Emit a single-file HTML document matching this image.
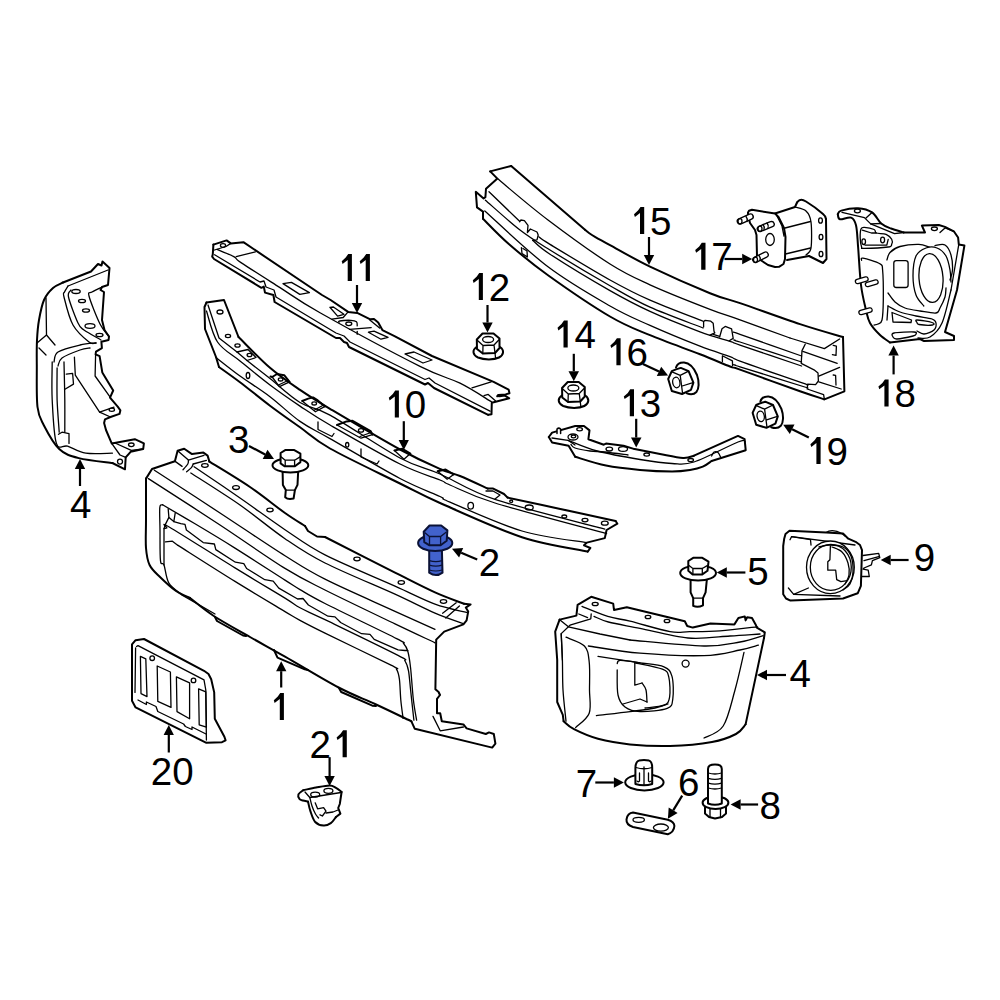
<!DOCTYPE html>
<html><head><meta charset="utf-8"><style>
html,body{margin:0;padding:0;background:#fff;width:1000px;height:1000px;overflow:hidden}
svg{display:block}
text{font-family:"Liberation Sans",sans-serif;font-size:38.5px;fill:#000}
.o{fill:none;stroke:#000;stroke-width:2;stroke-linejoin:round;stroke-linecap:round}
.i{fill:none;stroke:#000;stroke-width:1.3;stroke-linejoin:round;stroke-linecap:round}
.f{fill:#fff;stroke:#000;stroke-width:2;stroke-linejoin:round;stroke-linecap:round}
.fi{fill:#fff;stroke:#000;stroke-width:1.3;stroke-linejoin:round;stroke-linecap:round}
</style></head><body>
<svg width="1000" height="1000" viewBox="0 0 1000 1000">
<!-- 01.txt -->
<g>
<path class="o" d="M146.0,478.6 L152.0,469.0 L174.9,461.2 L177.6,450.8 L184.2,448.7 L192.0,454.1 L203.4,452.6 L207.6,455.6 L209.4,461.6"/>
<path class="o" d="M209.4,461.6 C216.2,465.8 237.4,478.4 250.0,487.0 C262.6,495.6 275.8,506.5 285.0,513.0 C294.2,519.5 301.7,523.8 305.0,526.0"/>
<path class="o" d="M305.0,526.0 L308.0,531.0 L317.0,536.5 L325.0,537.0"/>
<path class="o" d="M325.0,537.0 C336.7,542.9 376.7,563.4 395.0,572.6 C413.3,581.8 423.5,587.2 435.0,592.4 C446.5,597.6 459.2,601.9 464.0,603.8"/>
<path class="o" d="M464.0,603.8 L470.6,604.4 L465.8,607.6 L468.2,611.6 L466.6,620.4 L463.4,624.4 L444.2,631.6 L436.2,639.6 L435.4,689.2 L438.6,692.0 L440.0,695.0 L437.0,698.8 L437.0,713.2 L440.2,713.2 L441.8,721.2 L463.4,724.4 L466.6,728.4 L485.8,734.0 L489.0,732.4 L493.8,734.0 L495.4,743.6 L492.2,747.6 L414.8,728.8 L411.4,721.3"/>
<path class="o" d="M146.0,478.6 C146.0,485.5 146.0,508.4 146.0,520.0 C146.0,531.6 145.4,540.5 146.0,548.0 C146.6,555.5 147.3,560.2 149.6,565.0 C151.9,569.8 155.6,572.7 160.0,577.0 C164.4,581.3 171.0,587.5 176.0,591.0 C181.0,594.5 187.7,596.8 190.0,598.0"/>
<path class="o" d="M190.0,598.0 C194.0,601.0 203.8,609.5 213.8,616.0 C223.8,622.5 238.1,630.2 250.0,637.0 C261.9,643.8 270.2,648.2 285.0,656.6 C299.8,665.0 323.6,679.6 338.6,687.5 C353.6,695.4 362.9,698.4 375.0,704.0 C387.1,709.6 405.3,718.4 411.4,721.3"/>
<path class="o" d="M215.0,617.0 L217.0,621.0 L243.0,635.5 L246.0,636.0"/>
<path class="o" d="M274.0,650.0 L277.5,657.6 L304.8,669.3 L308.0,670.0"/>
<path class="o" d="M339.0,688.0 L341.2,692.0 L372.4,705.7 L376.0,706.0"/>
<path class="i" d="M182.2,595.1 L215.0,614.0"/>
<path class="i" d="M178.5,451.4 L188.4,460.1 L204.0,455.3"/>
<path class="i" d="M188.4,460.4 C188.3,461.0 188.7,462.4 187.8,464.0 C186.9,465.6 183.8,468.8 183.0,469.7"/>
<path class="i" d="M175.5,461.6 L182.1,466.4"/>
<path class="i" d="M206.4,460.4 L193.2,464.0"/>
<path class="i" d="M193.2,464.0 C192.9,464.6 192.5,466.3 191.4,467.6 C190.3,468.9 187.4,471.1 186.6,471.8"/>
<path class="i" d="M194.1,466.7 C201.8,471.9 224.8,487.5 240.0,498.0 C255.2,508.5 270.8,520.2 285.0,529.7 C299.2,539.2 306.7,545.5 325.0,554.9 C343.3,564.3 376.7,577.9 395.0,586.1 C413.3,594.3 423.1,599.7 435.0,604.1 C446.9,608.5 461.3,611.0 466.6,612.4"/>
<path class="i" d="M190.8,473.0 C199.0,478.3 224.3,494.1 240.0,505.0 C255.7,516.0 270.8,529.0 285.0,538.7 C299.2,548.4 306.7,553.8 325.0,563.0 C343.3,572.2 376.7,585.9 395.0,594.2 C413.3,602.6 423.6,608.2 435.0,613.1 C446.4,618.0 458.7,621.9 463.4,623.6"/>
<path class="i" d="M154.4,470.2 C165.3,477.3 198.2,498.7 220.0,513.0 C241.8,527.3 267.5,544.8 285.0,555.8 C302.5,566.8 306.7,570.0 325.0,579.2 C343.3,588.5 376.7,602.9 395.0,611.3 C413.3,619.6 428.3,626.3 435.0,629.3"/>
<path class="i" d="M148.4,478.6 C160.3,486.3 197.2,510.0 220.0,525.0 C242.8,540.0 267.5,557.6 285.0,568.4 C302.5,579.2 306.7,580.8 325.0,590.0 C343.3,599.2 376.7,615.1 395.0,623.9 C413.3,632.7 428.3,639.6 435.0,642.8"/>
<path class="i" d="M442.6,613.2 L456.2,602.8"/>
<path class="i" d="M445.8,618.0 L459.4,606.0"/>
<ellipse class="i" cx="204.9" cy="465.5" rx="3.3" ry="1.8"/>
<ellipse class="i" cx="236" cy="487.6" rx="3.4" ry="1.9"/>
<ellipse class="i" cx="270" cy="510" rx="3.2" ry="1.8"/>
<ellipse class="i" cx="357" cy="559" rx="3.2" ry="1.8"/>
<ellipse class="i" cx="401.3" cy="582.5" rx="3.2" ry="1.8"/>
<ellipse class="i" cx="443.5" cy="601.5" rx="3.2" ry="1.8"/>
<path class="i" d="M162.6,504.8 C168.0,508.0 182.9,516.6 195.0,523.8 C207.1,531.0 220.0,538.7 235.0,548.1 C250.0,557.5 274.2,573.2 285.0,580.1 C295.8,587.0 293.3,585.7 300.0,589.6 C306.7,593.5 308.9,595.3 325.0,603.5 C341.1,611.7 383.5,631.9 396.6,638.6 C409.7,645.3 401.7,641.4 403.6,643.5 C405.5,645.6 406.6,647.1 407.8,651.2 C409.0,655.3 409.7,659.9 410.6,668.0 C411.5,676.1 412.4,691.3 413.4,700.0 C414.4,708.7 416.1,716.8 416.6,720.2"/>
<path class="i" d="M162.6,504.8 C162.1,505.3 160.2,503.4 159.8,507.6 C159.4,511.8 159.9,521.1 160.0,530.0 C160.1,538.9 159.8,555.0 160.5,560.8 C161.2,566.6 162.6,561.3 164.0,565.0 C165.4,568.7 165.9,578.2 168.9,583.2 C171.9,588.2 180.0,593.1 182.2,595.1"/>
<path class="i" d="M168.2,509.0 L168.9,517.4 L165.4,524.4 L164.0,528.6 L164.0,565.0"/>
<path class="i" d="M175.2,513.2 L173.8,521.6 L180.8,523.7 L185.0,524.4 L186.4,530.0 L203.2,542.6 L214.4,544.0 L215.8,549.6 L235.4,562.2 L243.8,563.6 L246.6,568.5 L264.8,579.7 L273.2,581.1 L278.8,588.1 L297.6,599.0 L303.0,598.5 L308.4,605.0 L328.0,616.2 L335.0,616.9 L340.6,622.5 L361.6,633.7 L370.0,634.4 L374.2,639.3 L398.0,649.8 L405.0,650.5 L407.8,650.5"/>
<path class="i" d="M173.8,521.6 L168.9,517.4"/>
<path class="i" d="M164.0,528.6 C164.5,528.5 165.9,528.1 166.8,527.9 C167.7,527.7 158.2,520.5 169.6,527.2 C181.0,533.9 215.8,556.1 235.0,567.9 C254.2,579.7 274.2,591.5 285.0,598.1 C295.8,604.8 293.3,604.2 300.0,607.8 C306.7,611.4 308.7,611.8 325.0,619.7 C341.3,627.6 384.7,648.5 398.0,655.4 C411.3,662.3 403.2,658.4 405.0,661.0 C406.8,663.6 407.6,666.0 408.5,670.8 C409.4,675.6 409.7,681.8 410.6,690.0 C411.5,698.2 413.3,715.2 413.9,720.2"/>
<path class="i" d="M165.4,541.9 L172.4,541.2 L178.0,545.4"/>
<path class="i" d="M178.0,545.4 C187.5,551.4 217.2,570.4 235.0,581.4 C252.8,592.4 274.2,605.1 285.0,611.6 C295.8,618.1 293.3,616.8 300.0,620.4 C306.7,624.0 309.8,625.7 325.0,633.2 C340.2,640.7 379.1,659.2 391.0,665.2 C402.9,671.2 395.2,667.1 396.6,669.4 C398.0,671.7 398.7,674.1 399.4,679.2 C400.1,684.3 400.2,693.5 400.8,700.0 C401.4,706.5 402.7,715.3 403.1,718.4"/>
<path class="i" d="M433.0,716.4 L440.2,730.8 L463.4,727.0"/>
<path class="i" d="M440.0,695.0 L438.8,692.8"/>
</g>
<!-- 04L.txt -->
<g>
<path class="o" d="M63.0,282.5 C61.3,283.4 56.2,285.1 53.0,288.0 C49.8,290.9 46.3,294.7 44.0,300.0 C41.7,305.3 40.2,313.3 39.0,320.0 C37.8,326.7 37.4,332.5 37.0,340.0 C36.6,347.5 36.7,353.8 36.8,365.0 C36.9,376.2 36.3,397.0 37.5,407.0 C38.7,417.0 40.2,418.2 43.8,425.2 C47.4,432.2 53.4,443.5 59.2,449.0 C65.0,454.5 69.9,455.8 78.8,458.1 C87.7,460.4 106.8,462.2 112.4,463.0"/>
<path class="o" d="M112.4,463.0 L125.0,469.3 L125.7,457.4 L130.6,451.8 L143.2,449.0 L143.9,443.4 L134.8,439.2 L111.7,443.4 L106.0,430.0 L104.1,422.9 L105.0,419.3 L110.5,417.0 L119.5,413.9 L120.4,410.3 L117.7,406.7 L110.0,397.7 L113.2,390.5 L102.3,372.4 L99.6,356.2 L95.6,354.4 L96.0,351.7 L101.9,348.1 L101.4,341.8 L108.6,340.0 L109.0,336.5 L104.5,330.0 L102.0,320.0 L104.0,292.0 L100.5,290.0 L102.0,287.0 L108.0,285.0 L109.5,268.0 L102.5,261.5 L101.5,265.5 L98.0,264.0 L91.0,271.5 L63.0,282.5"/>
<path class="i" d="M68.0,286.0 L108.0,270.0"/>
<path class="i" d="M68.0,286.0 C67.4,287.0 65.2,290.2 64.5,292.0 C63.8,293.8 62.6,291.5 64.0,297.0 C65.4,302.5 68.8,317.5 73.0,325.0 C77.2,332.5 85.2,339.0 89.0,342.0 C92.8,345.0 94.8,342.8 96.0,343.0"/>
<path class="i" d="M71.0,290.0 C70.6,291.2 67.3,291.5 68.5,297.0 C69.7,302.5 75.4,317.5 78.0,323.0 C80.6,328.5 80.2,327.2 84.0,330.0 C87.8,332.8 98.2,338.3 101.0,340.0"/>
<path class="i" d="M102.0,287.0 C100.3,287.8 94.2,290.5 92.0,292.0 C89.8,293.5 87.7,290.7 89.0,296.0 C90.3,301.3 96.7,317.2 100.0,324.0 C103.3,330.8 107.5,334.4 109.0,336.5"/>
<ellipse class="i" cx="76" cy="291.5" rx="4.2" ry="2"/>
<ellipse class="i" cx="82" cy="301" rx="3.5" ry="1.7"/>
<ellipse class="i" cx="86" cy="310.5" rx="3.5" ry="1.7"/>
<ellipse class="i" cx="90" cy="326" rx="5" ry="2.3"/>
<ellipse class="i" cx="99.5" cy="335" rx="3.5" ry="1.7"/>
<path class="i" d="M46.0,298.0 L46.5,335.0 L55.0,345.0"/>
<path class="i" d="M37.0,343.0 L46.5,335.0"/>
<path class="i" d="M39.0,348.0 L46.0,355.0"/>
<path class="i" d="M54.0,362.0 C54.7,360.3 53.7,354.8 58.0,352.0 C62.3,349.2 73.7,346.5 80.0,345.0 C86.3,343.5 93.3,343.3 96.0,343.0"/>
<path class="i" d="M58.0,366.0 C58.7,364.7 58.3,360.7 62.0,358.0 C65.7,355.3 75.3,351.7 80.0,350.0 C84.7,348.3 88.3,348.3 90.0,348.0"/>
<path class="i" d="M52.2,362.0 C52.2,368.3 51.5,386.4 52.2,400.0 C52.9,413.6 53.8,435.7 56.4,443.4 C59.0,451.1 62.7,444.6 67.6,446.2 C72.5,447.8 78.3,452.0 85.8,453.2 C93.3,454.4 108.0,453.2 112.4,453.2"/>
<path class="i" d="M57.1,368.0 C57.1,373.3 56.8,389.3 57.1,400.0 C57.5,410.7 58.9,426.8 59.2,432.2"/>
<path class="i" d="M58.5,434.3 L62.0,432.2 L69.0,433.6 L69.0,443.4"/>
<path class="i" d="M66.3,374.2 L72.6,373.3 L73.5,384.1 L64.5,389.5"/>
<path class="i" d="M64.0,362.0 C64.1,368.3 64.7,388.3 64.8,400.0 C64.9,411.7 64.8,426.7 64.8,432.0"/>
<path class="i" d="M95.6,354.4 L95.1,376.0 L110.5,397.7"/>
<path class="i" d="M74.4,357.1 L75.3,375.1 L99.6,412.1 L114.0,407.1"/>
<path class="i" d="M99.6,412.1 L110.5,417.0"/>
<ellipse class="i" cx="111.8" cy="409.8" rx="2.7" ry="1.6"/>
<path class="i" d="M111.7,443.4 L120.0,455.0 L125.7,457.4"/>
<path class="i" d="M115.0,443.0 L131.3,450.4 L143.2,449.0"/>
<ellipse class="i" cx="131.3" cy="444.8" rx="2.8" ry="1.8"/>
<ellipse class="i" cx="120" cy="461.6" rx="2.5" ry="2.5"/>
</g>
<!-- 04R.txt -->
<g>
<path class="o" d="M559.6,619.6 L576.4,615.6 L577.6,604.8 L591.2,596.8 L613.2,603.6 L614.0,610.0 L626.8,607.2 L684.8,621.2 L687.2,626.0 L692.8,627.6 L710.4,623.6 L734.4,624.4 L738.4,618.0 L744.8,616.4 L745.6,620.4 L747.2,617.2 L752.0,618.0 L756.0,625.2 L756.8,627.6 L764.8,632.4 L764.0,638.0"/>
<path class="o" d="M764.0,638.0 L745.6,724.4"/>
<path class="o" d="M745.6,724.4 C744.0,726.0 741.6,731.1 736.0,734.0 C730.4,736.9 723.0,740.0 712.0,742.0 C701.0,744.0 683.7,745.6 670.0,746.0 C656.3,746.4 642.0,745.6 630.0,744.4 C618.0,743.2 607.3,741.3 598.0,738.8 C588.7,736.3 579.7,732.1 574.0,729.2 C568.3,726.3 565.3,722.5 563.6,721.2"/>
<path class="o" d="M563.6,721.2 L562.8,714.8 L557.2,702.0 L557.2,660.0 L555.2,631.6 L559.6,619.6"/>
<path class="i" d="M582.0,606.4 C586.3,608.1 599.8,613.9 607.8,616.4 C615.8,618.9 619.6,618.7 630.0,621.2 C640.4,623.7 660.1,629.9 670.0,631.6 C679.9,633.3 681.3,631.7 689.6,631.6 C697.9,631.5 708.7,631.6 720.0,630.8 C731.3,630.0 751.3,627.5 757.6,626.8"/>
<path class="i" d="M594.0,616.4 C596.4,617.3 600.7,620.0 608.4,622.0 C616.1,624.0 626.7,625.7 640.0,628.4 C653.3,631.1 673.0,636.7 688.0,638.0 C703.0,639.3 718.0,636.7 730.0,636.0 C742.0,635.3 755.0,634.3 760.0,634.0"/>
<path class="i" d="M578.8,614.0 L587.6,617.6"/>
<path class="i" d="M591.2,614.0 L590.8,618.8 L570.0,625.2 L561.2,633.6 L562.4,660.0"/>
<path class="i" d="M560.0,620.0 L568.4,626.8 L600.0,634.0 L630.0,640.0"/>
<path class="i" d="M630.0,640.0 C642.3,641.0 685.7,645.7 704.0,646.0 C722.3,646.3 730.1,643.7 740.0,642.0 C749.9,640.3 759.3,636.7 763.2,635.6"/>
<path class="i" d="M588.4,646.0 C597.0,647.2 620.7,651.6 640.0,653.2 C659.3,654.8 687.3,656.1 704.0,655.6 C720.7,655.1 730.9,651.7 740.0,650.0 C749.1,648.3 755.3,646.0 758.4,645.2"/>
<path class="i" d="M598.0,656.4 L640.0,662.8"/>
<path class="i" d="M561.2,633.6 C561.4,638.0 562.1,650.6 562.4,660.0 C562.7,669.4 562.4,679.8 563.0,690.0 C563.6,700.2 565.5,716.0 566.0,721.2"/>
<path class="i" d="M566.0,637.2 C569.1,638.7 580.5,641.9 584.4,646.0 C588.3,650.1 588.4,654.7 589.2,662.0 C590.1,669.3 589.5,681.5 589.5,690.0 C589.5,698.5 591.5,706.9 589.2,713.2 C586.9,719.5 577.9,725.2 575.6,727.6"/>
<path class="i" d="M744.0,652.4 C742.5,658.7 738.5,677.7 735.0,690.0 C731.5,702.3 728.4,718.0 723.2,726.0 C718.0,734.0 707.2,736.0 704.0,738.0"/>
<circle class="i" cx="685.6" cy="663.6" r="3.5"/>
<path class="i" d="M617.2,663.6 C617.7,663.1 616.6,660.5 620.4,660.4 C624.2,660.3 632.7,661.7 640.0,662.8 C647.3,663.9 658.7,664.5 664.0,666.8 C669.3,669.1 670.5,671.1 672.0,676.4 C673.5,681.7 673.6,693.5 672.8,698.8 C672.0,704.1 672.7,706.3 667.2,708.4 C661.7,710.5 647.0,711.8 640.0,711.6 C633.0,711.4 628.7,709.8 625.0,707.0 C621.3,704.2 619.3,701.2 618.0,695.0 C616.7,688.8 617.3,674.2 617.2,670.0"/>
<path class="i" d="M634.8,662.8 C639.4,663.9 656.7,666.8 662.4,669.2 C668.1,671.6 667.6,672.5 668.8,677.2 C670.0,681.9 670.4,692.5 669.6,697.2 C668.8,701.9 668.1,703.4 664.0,705.2 C659.9,707.0 648.2,707.5 645.0,708.0"/>
<path class="i" d="M634.8,662.8 L634.8,685.2 L642.0,683.0"/>
<path class="i" d="M642.0,683.0 C642.7,684.2 645.2,686.8 646.0,690.0 C646.8,693.2 646.8,700.0 647.0,702.0"/>
<path class="i" d="M623.0,704.0 L640.0,699.0 L647.0,702.0"/>
<path class="i" d="M596.4,715.6 C602.0,714.9 620.2,712.9 630.0,711.6 C639.8,710.3 648.7,709.3 655.0,708.0 C661.3,706.7 665.8,704.7 668.0,704.0"/>
<ellipse class="i" cx="595.2" cy="604" rx="3" ry="1.7"/>
<ellipse class="i" cx="648" cy="617" rx="2.8" ry="1.7"/>
<ellipse class="i" cx="667" cy="621" rx="2.8" ry="1.7"/>
</g>
<!-- 05.txt -->
<g>
<path class="f" d="M690.6,579 L690.6,592.3 L693.2,598.1 L693.2,605.9 Q697.8,608 703,605.3 L703,598.1 L705.6,592.3 L706.9,579 Z"/>
<path class="i" d="M693.2,598.1 L703,598.1"/>
<ellipse class="f" cx="698.1" cy="573" rx="17.9" ry="7.6"/>
<path class="f" d="M688.3,561 L693.2,557.8 L702.3,557.8 L708.5,561.7 L707.5,570.8 L702.3,574.4 L692.6,574.4 L688.3,570.8 Z"/>
<path class="i" d="M689,565.6 L692.9,568.5 L702.3,568.5 L707.2,565.6 M692.9,568.5 L692.9,574.4 M702.3,568.5 L702.3,574.4"/>
</g>
<!-- 09.txt -->
<g>
<path class="o" d="M784.2,538.7 L785.5,534.0 L789.5,530.8 L826.2,532.4 L843.0,533.4 L848.3,538.7 L855.6,541.8 L860.0,545.0 L862.0,550.2 L860.9,585.9 L857.7,593.3 L843.0,598.5 L790.5,600.6 L786.0,598.5 L783.2,594.3 L783.2,546.0 Z"/>
<path class="i" d="M826.2,532.4 Q829,530.3 834,530.8 Q840,531.5 845,536"/>
<path class="i" d="M790.0,539.7 L791.6,536.6 L810.5,539.7 L811.0,545.0"/>
<path class="i" d="M791.6,536.6 L855.0,545.0"/>
<path class="i" d="M788.4,588.0 L793.7,594.3 L808.4,588.0"/>
<path class="i" d="M793.7,594.3 L840.0,596.0"/>
<ellipse class="fi" cx="830.4" cy="567.3" rx="23.9" ry="26.3"/>
<ellipse class="i" cx="830.8" cy="567.3" rx="20.5" ry="23"/>
<path class="i" d="M819.0,547.0 C820.8,546.7 826.0,545.0 830.0,545.0 C834.0,545.0 839.5,545.2 843.0,547.0 C846.5,548.8 849.3,551.8 851.0,556.0 C852.7,560.2 853.2,567.3 853.0,572.0 C852.8,576.7 851.7,581.0 850.0,584.0 C848.3,587.0 844.2,589.0 843.0,590.0"/>
<path class="i" d="M832.0,547.0 C833.7,547.8 839.3,549.3 842.0,552.0 C844.7,554.7 846.8,559.2 848.0,563.0 C849.2,566.8 849.5,571.5 849.0,575.0 C848.5,578.5 845.7,582.5 845.0,584.0"/>
<path class="i" d="M830.4,546.0 L829.9,559.7 L827.8,561.8 L827.8,570.2 L835.7,570.2 L836.7,579.6 L840.9,581.7 L847.2,580.7"/>
<path class="i" d="M863.0,555.5 L878.7,553.4 L879.8,557.6 L872.4,560.7 L871.4,564.9 L864.0,568.0 L863.0,569.1 L868.2,570.2 L869.3,576.5 L862.0,576.5"/>
<path class="i" d="M864.0,560.7 L878.7,556.5"/>
</g>
<!-- 10.txt -->
<g>
<path class="o" d="M206.5,302.5 L224.0,300.0 L238.5,337.0"/>
<path class="o" d="M238.5,337.0 C243.8,342.1 259.8,359.0 270.0,367.8 C280.2,376.6 290.0,383.1 300.0,389.9 C310.0,396.7 313.3,398.9 330.0,408.8 C346.7,418.7 381.7,439.5 400.0,449.5 C418.3,459.5 430.0,464.6 440.0,469.0 C450.0,473.4 452.0,472.7 460.0,476.0 C468.0,479.3 483.2,486.5 487.8,488.6"/>
<path class="o" d="M487.8,488.6 L493.2,488.6 L504.0,494.0 L507.6,497.6"/>
<path class="o" d="M507.6,497.6 C516.0,499.4 540.0,504.5 558.0,508.4 C576.0,512.3 606.0,518.9 615.6,521.0"/>
<path class="o" d="M615.6,521.0 L617.4,523.7 L606.6,530.0 L604.8,538.1 L586.8,542.6 L584.0,545.3 L590.4,548.0 L587.7,551.6"/>
<path class="o" d="M206.5,302.5 L204.5,307.0 L205.0,329.0 L216.0,357.0 L219.0,367.0"/>
<path class="o" d="M219.0,367.0 C222.5,369.5 231.5,375.8 240.0,382.2 C248.5,388.6 260.0,398.2 270.0,405.7 C280.0,413.2 290.0,420.2 300.0,427.3 C310.0,434.4 313.3,439.1 330.0,448.5 C346.7,457.9 381.7,474.4 400.0,483.5 C418.3,492.6 419.7,494.1 440.0,503.0 C460.3,511.9 497.4,529.1 522.0,537.2 C546.6,545.3 576.8,549.2 587.7,551.6"/>
<path class="i" d="M208.0,305.0 L219.0,338.0 L237.0,352.0"/>
<path class="i" d="M247.0,360.5 C250.8,363.5 261.2,371.6 270.0,378.6 C278.8,385.6 290.0,396.4 300.0,402.5 C310.0,408.6 313.3,405.9 330.0,415.1 C346.7,424.4 381.7,448.2 400.0,458.0 C418.3,467.8 424.2,467.1 440.0,474.0 C455.8,480.9 467.5,490.2 495.0,499.4 C522.5,508.6 586.5,524.1 604.8,529.1"/>
<path class="i" d="M206.5,311.0 C208.3,316.2 211.9,333.7 217.5,342.0 C223.1,350.3 231.2,353.8 240.0,361.0 C248.8,368.2 260.0,377.5 270.0,385.0 C280.0,392.5 290.0,399.4 300.0,406.1 C310.0,412.8 313.3,415.4 330.0,425.0 C346.7,434.6 381.7,454.8 400.0,464.0 C418.3,473.2 431.7,476.5 440.0,480.0 C448.3,483.5 440.8,481.2 450.0,485.0 C459.2,488.8 468.9,494.9 495.0,503.0 C521.1,511.1 588.0,528.5 606.6,533.6"/>
<path class="i" d="M216.0,357.5 C220.0,360.6 231.0,369.5 240.0,376.0 C249.0,382.5 260.0,389.1 270.0,396.7 C280.0,404.3 290.0,414.4 300.0,421.4 C310.0,428.4 313.3,429.1 330.0,438.6 C346.7,448.1 381.7,468.9 400.0,478.5 C418.3,488.1 431.7,492.6 440.0,496.5 C448.3,500.4 436.3,496.4 450.0,502.1 C463.7,507.9 499.2,524.2 522.0,531.0 C544.8,537.8 576.0,540.7 586.8,542.6"/>
<path class="i" d="M237.0,352.0 L248.0,349.5 L256.0,357.5 L247.0,360.5 L237.0,352.0"/>
<path class="o" d="M270.5,376.5 L272.2,377.0 L277.0,374.0 L284.2,375.2 L289.6,381.8"/>
<path class="i" d="M289.6,381.8 L279.4,386.6 L272.2,377.0"/>
<path class="i" d="M278.5,385.0 L288.0,380.5"/>
<ellipse class="i" cx="280.6" cy="379.4" rx="2.3" ry="1.6"/>
<path class="o" d="M302.2,401.0 L308.2,398.6 L313.0,397.4 L317.8,400.4 L325.0,406.4"/>
<path class="i" d="M325.0,406.4 L315.4,411.8 L302.2,401.0"/>
<path class="i" d="M314.5,410.0 L323.5,405.0"/>
<ellipse class="i" cx="314.2" cy="403.4" rx="2.3" ry="1.6"/>
<path class="o" d="M337.0,425.0 L346.6,421.4 L352.6,420.8 L370.6,431.0 L372.4,434.6"/>
<path class="i" d="M372.4,434.6 L361.0,438.2 L337.0,425.0"/>
<path class="i" d="M360.0,436.5 L371.0,432.5"/>
<ellipse class="i" cx="361" cy="430.4" rx="2.6" ry="1.8"/>
<path class="o" d="M394.4,450.4 L402.4,448.8 L410.4,453.6"/>
<path class="i" d="M410.4,453.6 L404.0,459.2 L394.4,450.4"/>
<path class="o" d="M437.6,471.2 L445.6,469.6 L453.6,474.4"/>
<path class="i" d="M453.6,474.4 L447.2,479.2 L437.6,471.2"/>
<path class="i" d="M486.0,491.0 L493.0,491.0 L500.0,495.0 L495.0,499.0"/>
<ellipse class="i" cx="220" cy="312" rx="3" ry="2"/>
<ellipse class="i" cx="228" cy="336" rx="2.6" ry="1.6"/>
<ellipse class="i" cx="237.5" cy="345.5" rx="2.6" ry="1.7"/>
<ellipse class="i" cx="249.5" cy="355" rx="2.4" ry="1.7"/>
<ellipse class="i" cx="248" cy="375.5" rx="1.8" ry="3"/>
<ellipse class="i" cx="347.2" cy="444.8" rx="1.6" ry="2.3"/>
<ellipse class="i" cx="470.7" cy="505.7" rx="2.8" ry="3.4"/>
<ellipse class="i" cx="511.2" cy="501.2" rx="1.5" ry="1.2"/>
<ellipse class="i" cx="529.2" cy="507.5" rx="4" ry="2.5"/>
<ellipse class="i" cx="564.3" cy="516.5" rx="2.4" ry="1.5"/>
<ellipse class="i" cx="585" cy="520.1" rx="3" ry="1.8"/>
<ellipse class="i" cx="604.8" cy="523.2" rx="3.4" ry="2"/>
<path class="i" d="M318.0,422.0 L318.0,429.5 L332.0,436.5 L334.0,433.5"/>
<path class="i" d="M361.0,449.0 L361.0,457.0 L377.0,464.0 L379.0,461.0"/>
</g>
<!-- 11.txt -->
<g>
<path class="o" d="M213.4,244.6 L226.6,240.4 L230.8,243.4 L243.4,242.2 L322.0,295.0 L330.6,300.0 L348.1,311.9 L357.2,312.9 L369.8,319.2 L374.0,318.9 L378.2,322.4 L382.4,330.1 L395.0,336.4 L432.0,356.0 L493.6,381.8 L508.6,389.6 L509.5,393.2 L505.6,394.4 L498.4,395.0 L497.2,396.2 L505.0,395.6 L509.2,398.3 L491.8,402.8 L491.5,414.2 L488.2,414.8"/>
<path class="o" d="M213.4,244.6 L212.8,254.2 L212.2,256.6 L214.0,259.0 L261.4,287.8 L263.8,286.6 L265.0,292.6 L273.4,295.0 L274.6,302.0 L336.0,338.0 L340.0,338.0 L344.0,342.0 L347.0,343.0 L349.0,347.0 L425.0,384.5 L428.0,383.0 L434.0,388.0 L488.2,414.8"/>
<path class="i" d="M214.6,254.8 L260.0,282.0 L264.0,281.0 L266.0,287.0 L274.0,290.0 L276.0,297.0 L336.0,333.0 L344.0,336.0 L350.0,342.0 L425.0,379.5 L429.0,378.0 L435.0,383.0 L490.0,411.2"/>
<path class="i" d="M217.0,249.4 C219.8,250.6 229.8,254.4 233.8,256.6 C237.8,258.8 233.3,257.4 241.0,262.6 C248.7,267.8 266.8,279.2 280.0,287.6 C293.2,296.0 296.7,299.7 320.0,312.8 C343.3,325.9 396.7,354.7 420.0,366.4 C443.3,378.1 448.0,377.3 460.0,383.2 C472.0,389.1 486.5,398.9 491.8,402.0"/>
<ellipse class="i" cx="223" cy="245.5" rx="2.6" ry="1.8"/>
<path class="i" d="M236.2,256.6 L255.4,251.8"/>
<path class="i" d="M214.5,250.0 L226.0,246.5 L230.8,243.4"/>
<path class="i" d="M283.0,283.6 L291.4,282.4 L309.4,292.6 L299.8,294.4 Z"/>
<path class="i" d="M329.9,307.3 L333.4,307.0 L343.9,314.3 L337.6,316.1 Z"/>
<path class="i" d="M368.4,332.2 L374.0,331.1 L388.0,337.4 L381.0,339.2 Z"/>
<path class="i" d="M405.0,354.0 L414.0,352.0 L432.0,360.0 L423.0,363.0 Z"/>
<path class="i" d="M472.0,387.8 L491.2,381.8"/>
<path class="i" d="M484.0,395.6 L488.2,394.4 L495.4,400.7"/>
<ellipse class="i" cx="499.9" cy="395.6" rx="2.3" ry="1"/>
<path class="i" d="M348.1,311.9 L343.2,317.5 L332.0,319.2"/>
<path class="i" d="M369.8,320.0 L379.6,328.0"/>
<ellipse class="i" cx="348.8" cy="323.8" rx="3" ry="1.8"/>
<path class="i" d="M339.0,322.4 C339.1,322.2 337.7,321.4 339.7,321.0 C341.7,320.6 348.1,320.2 350.9,320.3 C353.7,320.4 355.4,320.8 356.5,321.7 C357.6,322.6 357.1,325.2 357.2,325.9"/>
<path class="i" d="M349.5,329.4 L371.2,327.6"/>
<path class="i" d="M357.2,331.5 L357.2,334.3"/>
</g>
<!-- 13.txt -->
<g>
<path class="o" d="M548.8,437.0 L552.1,432.6 L575.2,426.0 L584.0,426.0 L589.5,430.4 L588.4,439.2 L603.8,444.7 L606.0,443.6 L623.6,445.8 L634.6,449.1"/>
<path class="o" d="M634.6,449.1 C638.8,449.9 651.9,452.5 660.0,454.0 C668.1,455.5 677.3,457.6 683.0,457.9 C688.7,458.2 692.2,456.1 694.0,455.7"/>
<path class="o" d="M694.0,455.7 L738.0,435.9 L744.6,439.2 L745.7,450.2 L711.6,461.0"/>
<path class="o" d="M711.6,461.0 C710.1,461.9 706.4,465.2 702.8,466.7 C699.2,468.2 695.1,469.2 690.0,470.0 C684.9,470.8 680.3,471.5 672.0,471.5 C663.7,471.5 651.0,471.0 640.0,470.0 C629.0,469.0 616.8,467.8 606.0,465.6 C595.2,463.4 580.3,458.3 575.2,456.8"/>
<path class="o" d="M575.2,456.8 L568.6,445.8 L552.1,442.5 L548.8,437.0"/>
<path class="i" d="M552.0,438.0 L568.0,440.3 L575.0,445.0"/>
<path class="i" d="M568.0,440.3 C572.9,442.1 585.2,447.8 597.2,451.0 C609.2,454.2 627.5,457.4 640.0,459.5 C652.5,461.6 663.0,463.1 672.0,463.5 C681.0,463.9 683.0,465.6 694.0,462.0 C705.0,458.4 729.5,445.4 738.0,442.0 C746.5,438.6 743.8,441.6 745.0,441.5"/>
<path class="i" d="M571.0,444.5 C571.7,445.1 571.8,446.9 575.0,448.0 C578.2,449.1 585.0,450.3 590.0,451.0 C595.0,451.7 598.7,451.3 605.0,452.0 C611.3,452.7 624.2,454.5 628.0,455.0"/>
<path class="i" d="M711.6,456.0 C712.0,455.3 712.9,452.6 714.0,452.0 C715.1,451.4 716.8,451.5 718.0,452.5 C719.2,453.5 720.5,457.1 721.0,458.0"/>
<ellipse class="i" cx="573" cy="437" rx="5" ry="3"/>
<ellipse class="i" cx="573.5" cy="436.5" rx="2.2" ry="1.3"/>
<path class="f" d="M557,433.5 L557,429 Q558.8,427.2 560.6,429 L560.6,433.5" style="stroke-width:1.5"/>
<ellipse class="i" cx="579.6" cy="429.3" rx="2.8" ry="1.6"/>
<ellipse class="i" cx="609.3" cy="449.1" rx="3.3" ry="1.9"/>
<ellipse class="i" cx="623" cy="449" rx="4.5" ry="2.4"/>
<ellipse class="i" cx="646.7" cy="454.6" rx="2.8" ry="1.6"/>
<ellipse class="i" cx="690.7" cy="460.1" rx="2.8" ry="1.6"/>
</g>
<!-- 15.txt -->
<g>
<path class="o" d="M490.2,171.4 L511.2,166.0"/>
<path class="o" d="M511.2,166.0 L585.0,229.8"/>
<path class="o" d="M585.0,229.8 C585.7,230.3 587.3,231.8 589.0,233.0 C590.7,234.2 591.5,234.8 595.0,236.8 C598.5,238.8 600.8,240.1 610.0,245.1 C619.2,250.1 633.3,258.6 650.0,266.6 C666.7,274.6 695.0,287.1 710.0,293.2 C725.0,299.3 725.0,298.0 740.0,303.1 C755.0,308.2 782.8,318.5 800.0,324.1 C817.2,329.8 835.8,334.9 843.0,337.0"/>
<path class="o" d="M843.0,337.0 L844.4,391.4 L824.4,399.4"/>
<path class="o" d="M490.2,171.4 L497.4,178.6 L486.0,188.8 L485.4,197.2 L483.6,198.4 L475.8,191.8 L477.0,207.4 L483.0,211.6 L483.0,218.8"/>
<path class="o" d="M483.0,218.8 C487.3,223.0 498.0,234.6 508.8,244.0 C519.6,253.4 531.1,263.1 548.0,275.2 C564.9,287.3 593.0,306.5 610.0,316.5 C627.0,326.5 635.0,328.9 650.0,335.2 C665.0,341.5 686.7,349.1 700.0,354.3 C713.3,359.5 723.3,363.9 730.0,366.5 C736.7,369.1 728.3,365.5 740.0,369.6 C751.7,373.7 786.0,386.4 800.0,391.3 C814.0,396.2 820.0,397.9 824.0,399.2"/>
<path class="i" d="M497.4,178.6 C505.8,185.5 529.2,205.8 548.0,220.0 C566.8,234.2 593.0,253.2 610.0,264.0 C627.0,274.8 633.3,277.2 650.0,284.8 C666.7,292.4 695.0,303.5 710.0,309.3 C725.0,315.1 726.7,315.1 740.0,319.9 C753.3,324.7 781.7,335.0 790.0,338.0"/>
<path class="i" d="M790.0,338.0 L824.4,348.6 L839.6,339.0"/>
<path class="i" d="M489.0,191.8 L519.6,221.2"/>
<path class="i" d="M519.6,221.8 L520.8,220.0 L524.4,220.6 L528.0,225.4 L527.4,232.6 L530.4,229.0 L537.0,232.0 L538.2,235.0 L537.0,239.8 L532.8,240.4"/>
<path class="i" d="M538.8,236.8 C540.7,238.1 538.1,237.2 550.0,244.4 C561.9,251.6 593.3,270.7 610.0,280.0 C626.7,289.3 634.4,293.3 650.0,300.2 C665.6,307.1 694.7,317.9 703.6,321.5"/>
<path class="i" d="M485.4,200.2 C491.2,205.2 509.2,221.7 520.0,230.0 C530.8,238.3 535.0,240.7 550.0,250.0 C565.0,259.3 593.3,276.2 610.0,285.7 C626.7,295.2 634.5,300.1 650.0,307.2 C665.5,314.2 694.2,324.5 703.0,328.0"/>
<path class="i" d="M532.8,240.4 C535.7,242.7 537.1,245.8 550.0,254.2 C562.9,262.6 593.3,281.1 610.0,290.6 C626.7,300.1 635.0,304.5 650.0,311.4 C665.0,318.3 686.7,326.8 700.0,331.8 C713.3,336.8 723.3,339.1 730.0,341.3 C736.7,343.5 728.1,341.0 740.0,345.1 C751.9,349.2 791.3,362.5 801.6,366.0"/>
<path class="i" d="M484.8,211.0 C495.3,220.3 527.1,251.0 548.0,266.8 C568.9,282.6 593.0,296.2 610.0,306.0 C627.0,315.8 635.0,318.7 650.0,325.4 C665.0,332.1 686.7,341.0 700.0,346.2 C713.3,351.4 723.3,354.1 730.0,356.6 C736.7,359.1 728.3,356.9 740.0,361.2 C751.7,365.5 788.7,378.2 800.0,382.2 C811.3,386.2 806.7,384.5 808.0,385.0"/>
<path class="i" d="M722.4,356.0 L722.4,361.6"/>
<path class="i" d="M722.8,356.0 L732.4,360.8 L732.6,365.6"/>
<path class="i" d="M735.6,365.2 C736.3,365.5 727.9,363.0 740.0,366.8 C752.1,370.6 796.7,384.5 808.0,388.0"/>
<path class="i" d="M521.4,247.6 L522.0,253.5 L527.4,257.0 L527.0,251.0 L523.0,248.5"/>
<path class="i" d="M703.6,327.0 L703.6,321.5 L705.2,320.4 L710.8,321.2 L713.2,323.2 L714.0,331.2 L714.8,332.8 L710.0,335.2"/>
<path class="i" d="M719.6,337.0 L722.0,328.8 L725.2,326.4 L731.6,328.8 L733.2,338.4 L729.2,340.8"/>
<path class="i" d="M713.2,334.4 L719.6,336.4"/>
<path class="i" d="M734.4,332.4 C735.3,332.7 728.8,330.5 740.0,334.4 C751.2,338.3 791.3,352.4 801.6,356.0"/>
<path class="i" d="M735.6,340.4 C736.3,340.7 729.0,338.4 740.0,342.0 C751.0,345.6 791.3,358.7 801.6,362.0"/>
<path class="i" d="M805.2,344.2 L802.0,350.6 L801.2,363.4 L814.0,369.8 L818.0,373.0 L818.4,381.0 L815.6,384.6 L807.6,384.2 L807.2,389.0 L823.6,394.6 L824.4,399.4"/>
<path class="i" d="M802.8,351.4 L837.2,363.4"/>
<path class="i" d="M818.8,376.2 L839.6,367.4"/>
<path class="i" d="M818.8,381.8 L841.2,389.0"/>
<path class="i" d="M833.2,345.4 L836.4,346.2 L836.0,355.4 L832.4,354.6"/>
<path class="i" d="M833.2,375.0 L835.6,375.4 L836.0,385.0"/>
</g>
<!-- 17.txt -->
<g>
<path class="o" d="M797.0,202.5 C797.5,202.1 798.5,200.2 800.0,200.0 C801.5,199.8 802.2,199.2 806.0,201.5 C809.8,203.8 819.7,211.1 823.0,214.0 C826.3,216.9 825.5,218.2 826.0,219.0"/>
<path class="o" d="M826.0,219.0 L826.5,259.0 L823.0,263.0 L809.0,256.0"/>
<path class="f" d="M775.0,213.5 L795.0,207.0 L797.0,202.5"/>
<path class="i" d="M795.0,207.0 C796.8,207.7 803.3,208.5 806.0,211.0 C808.7,213.5 810.2,215.8 811.0,222.0 C811.8,228.2 811.8,242.5 811.0,248.0 C810.2,253.5 806.8,253.8 806.0,255.0"/>
<path class="i" d="M785.0,228.0 L810.5,221.5"/>
<path class="i" d="M785.5,254.0 L810.5,248.0"/>
<path class="f" d="M787.0,260.0 L809.0,256.0"/>
<path class="f" d="M749.0,210.8 L752.0,209.8 L775.0,213.5 L778.5,217.0 L784.0,228.0 L785.5,237.0 L785.0,259.0 L783.5,264.0 L779.0,266.8 L775.0,267.0 L768.0,265.0 L762.0,261.0 L757.0,256.0 L756.5,235.0 L755.0,230.0 L750.0,223.0 L748.0,215.0 L748.0,212.5 Z"/>
<path class="i" d="M777.0,216.0 L782.0,226.0 L784.0,236.0"/>
<ellipse class="i" cx="770" cy="239.5" rx="4.3" ry="6"/>
<ellipse class="i" cx="820.5" cy="220.5" rx="1.9" ry="2.7"/>
<ellipse class="i" cx="821" cy="237" rx="1.9" ry="2.7"/>
<ellipse class="i" cx="821" cy="254" rx="1.9" ry="2.7"/>
<line x1="740" y1="221.3" x2="750.5" y2="216.7" stroke="#000" stroke-width="6.8" stroke-linecap="round"/><line x1="740" y1="221.3" x2="750.5" y2="216.7" stroke="#fff" stroke-width="4" stroke-linecap="round"/><ellipse class="i" cx="740" cy="221.3" rx="2" ry="2.6"/><path class="i" d="M746,216.5 Q748,219 747,221.5"/>
<line x1="760" y1="228.8" x2="771.5" y2="224.2" stroke="#000" stroke-width="6.8" stroke-linecap="round"/><line x1="760" y1="228.8" x2="771.5" y2="224.2" stroke="#fff" stroke-width="4" stroke-linecap="round"/><ellipse class="i" cx="760" cy="228.8" rx="2" ry="2.6"/><path class="i" d="M763,224.5 Q765,227 764,229.5 M767,223 Q769,225.5 768,228"/>
<line x1="755.5" y1="259.8" x2="765.5" y2="254.7" stroke="#000" stroke-width="6.8" stroke-linecap="round"/><line x1="755.5" y1="259.8" x2="765.5" y2="254.7" stroke="#fff" stroke-width="4" stroke-linecap="round"/><ellipse class="i" cx="755.5" cy="259.8" rx="2" ry="2.6"/><path class="i" d="M759,255.5 Q761,258 760,260.5"/>
</g>
<!-- 18.txt -->
<g>
<path class="o" d="M837.8,214.1 C838.4,213.5 837.9,211.6 841.3,210.6 C844.7,209.6 853.0,207.9 858.1,208.2 C863.2,208.5 868.2,209.8 872.1,212.4 C876.0,215.0 878.1,220.8 881.2,223.5 C884.4,226.2 887.2,227.0 891.0,228.5 C894.8,230.0 901.7,231.8 903.8,232.5"/>
<path class="o" d="M903.8,232.5 L925.0,232.5 L921.9,225.6 L938.8,225.0 L945.0,226.9 L953.8,231.3 L958.1,237.5 L958.8,244.4 L964.4,245.6 L957.0,290.0 L945.0,332.0 L954.0,336.0 L954.0,340.0 L924.0,341.0 L920.0,339.0 L890.0,342.5"/>
<path class="o" d="M890.0,342.5 C888.3,341.2 883.3,338.2 880.0,335.0 C876.7,331.8 872.3,327.2 870.0,323.0 C867.7,318.8 867.5,316.3 866.0,310.0 C864.5,303.7 862.3,295.5 861.0,285.0 C859.7,274.5 858.9,256.9 858.1,247.0 C857.3,237.1 857.2,230.2 856.0,225.3 C854.8,220.4 853.8,218.6 851.1,217.6 C848.4,216.6 842.1,219.9 839.9,219.3 C837.7,218.7 838.1,215.0 837.8,214.1"/>
<path class="i" d="M842.0,212.4 L864.4,217.6 L870.7,223.9 L894.5,233.7 L903.8,232.5"/>
<path class="i" d="M866.0,218.0 L872.0,212.5"/>
<path class="i" d="M870.7,223.9 L881.2,223.5"/>
<ellipse class="i" cx="857.4" cy="211" rx="3" ry="1.8"/>
<ellipse class="i" cx="934.4" cy="228.8" rx="3" ry="1.8"/>
<path class="i" d="M940.0,232.5 L945.0,228.0 L953.8,231.3"/>
<path class="i" d="M958.8,244.4 L951.0,290.0"/>
<path class="i" d="M861.0,229.0 C861.7,227.2 862.2,227.3 864.4,227.4 C866.6,227.5 872.2,228.6 874.2,229.5 C876.2,230.4 874.3,232.2 876.3,233.0 C878.3,233.8 883.5,233.3 886.1,234.4 C888.7,235.5 890.8,237.7 891.7,239.3 C892.6,240.9 892.3,242.9 891.7,244.2 C891.1,245.5 892.8,246.3 888.2,247.0 C883.7,247.7 868.8,248.4 864.4,248.4 C860.0,248.4 862.3,248.7 861.6,247.0 C860.9,245.3 860.3,241.0 860.2,238.0 C860.1,235.0 860.3,230.8 861.0,229.0 Z"/>
<path class="i" d="M862.3,230.2 L871.4,233.0 L876.3,233.0"/>
<path class="i" d="M865.1,245.2 L886.8,245.2 L888.2,239.3"/>
<ellipse class="i" cx="863.7" cy="241.7" rx="1.8" ry="2.8"/>
<ellipse class="i" cx="882.6" cy="240" rx="2" ry="2.8"/>
<path class="i" d="M861.6,260.3 C861.8,259.9 860.0,257.6 863.0,258.2 C866.0,258.8 876.5,261.8 879.8,263.8 C883.1,265.8 882.0,264.0 882.6,270.0 C883.2,276.0 883.4,291.7 883.3,300.0 C883.2,308.3 882.9,316.0 882.0,320.0 C881.1,324.0 879.3,323.2 878.0,324.0 C876.7,324.8 874.7,324.8 874.0,325.0"/>
<rect class="i" x="893.8" y="260.6" width="14.3" height="26.9" rx="2.5"/>
<ellipse class="i" cx="931" cy="278" rx="12" ry="24.5" transform="rotate(-4 931 278)"/>
<path class="i" d="M923.8,306.0 C922.5,304.2 917.8,300.0 916.0,295.0 C914.2,290.0 913.0,282.5 913.0,276.0 C913.0,269.5 913.8,260.7 916.0,256.0 C918.2,251.3 922.5,249.3 926.0,248.0 C929.5,246.7 933.7,246.7 937.0,248.0 C940.3,249.3 943.8,252.3 946.0,256.0 C948.2,259.7 949.2,265.7 950.0,270.0 C950.8,274.3 950.8,280.0 951.0,282.0"/>
<path class="i" d="M886.9,260.0 C887.4,258.8 887.8,254.8 890.0,252.5 C892.2,250.2 895.2,247.8 900.0,246.5 C904.8,245.2 914.0,244.3 918.8,244.4 C923.6,244.5 927.3,246.5 929.0,246.9"/>
<path class="i" d="M888.0,293.0 C889.2,294.5 892.2,299.5 895.0,302.0 C897.8,304.5 900.8,306.5 905.0,308.0 C909.2,309.5 914.8,310.2 920.0,311.0 C925.2,311.8 932.7,313.5 936.0,313.0 C939.3,312.5 938.5,310.7 940.0,308.0 C941.5,305.3 944.0,300.3 945.0,297.0 C946.0,293.7 945.8,289.5 946.0,288.0"/>
<path class="i" d="M935.0,245.6 C936.7,245.5 942.3,243.4 945.0,245.0 C947.7,246.6 949.8,250.8 951.0,255.0 C952.2,259.2 952.7,265.8 952.5,270.0 C952.3,274.2 950.4,278.3 950.0,280.0"/>
<path class="i" d="M888.0,306.0 C890.0,307.0 895.3,310.3 900.0,312.0 C904.7,313.7 910.7,314.8 916.0,316.0 C921.3,317.2 928.7,317.8 932.0,319.0 C935.3,320.2 935.7,321.2 936.0,323.0 C936.3,324.8 936.0,328.2 934.0,330.0 C932.0,331.8 926.8,333.8 924.0,334.0 C921.2,334.2 918.2,331.5 917.0,331.0"/>
<path class="i" d="M888.0,306.0 L887.0,320.0"/>
<path class="i" d="M892.0,312.5 L911.5,320.0 L911.0,322.5 L893.0,322.0 Z"/>
<path class="i" d="M917.0,320.0 C919.5,320.0 929.4,321.7 932.0,322.5 C934.6,323.3 934.7,324.7 932.5,325.0 C930.3,325.3 921.6,324.9 919.0,324.5 C916.4,324.1 917.3,323.2 917.0,322.5 C916.7,321.8 914.5,320.0 917.0,320.0 Z"/>
<path class="i" d="M894.0,333.0 C897.5,332.2 910.3,331.8 914.0,332.0 C917.7,332.2 916.2,333.3 916.0,334.0 C915.8,334.7 916.2,335.2 913.0,336.0 C909.8,336.8 900.3,338.8 897.0,339.0 C893.7,339.2 893.5,338.0 893.0,337.0 C892.5,336.0 890.5,333.8 894.0,333.0 Z"/>
<path class="i" d="M951.0,290.0 C949.5,295.5 945.5,315.2 942.0,323.0 C938.5,330.8 934.0,334.5 930.0,337.0 C926.0,339.5 920.0,337.8 918.0,338.0"/>
<line x1="857.5" y1="281.5" x2="866" y2="279" stroke="#000" stroke-width="5.5" stroke-linecap="round"/><line x1="857.5" y1="281.5" x2="866" y2="279" stroke="#fff" stroke-width="3" stroke-linecap="round"/>
<line x1="867.5" y1="284.5" x2="876" y2="282" stroke="#000" stroke-width="5.5" stroke-linecap="round"/><line x1="867.5" y1="284.5" x2="876" y2="282" stroke="#fff" stroke-width="3" stroke-linecap="round"/>
<line x1="861" y1="312.5" x2="870" y2="310" stroke="#000" stroke-width="5.5" stroke-linecap="round"/><line x1="861" y1="312.5" x2="870" y2="310" stroke="#fff" stroke-width="3" stroke-linecap="round"/>
</g>
<!-- 20.txt -->
<g>
<path class="o" d="M132.0,644.4 L135.6,640.2 L144.0,639.0 L204.0,670.8 L208.5,674.0 L211.2,679.2 L214.2,692.4 L214.8,718.8 L224.4,736.8 L225.6,740.4 L222.0,742.2 L206.4,742.8 L135.6,707.4 L132.0,700.8 Z"/>
<path class="i" d="M136.5,646.5 L138.0,645.6 L204.0,679.8 L205.8,690.0 L206.4,740.0"/>
<path class="i" d="M135.6,648.0 L135.0,692.4"/>
<path class="i" d="M140.4,656.4 L145.8,658.8 L147.0,696.6 L141.0,693.6 Z"/>
<path class="i" d="M157.2,666.0 L170.4,672.0 L171.0,707.4 L157.8,701.4 Z"/>
<path class="i" d="M176.4,676.8 L189.6,682.8 L189.6,718.8 L177.0,711.6 Z"/>
<path class="i" d="M198.6,688.8 L205.8,691.8 L206.4,727.2 L199.2,724.8 Z"/>
<circle class="i" cx="152.2" cy="658.2" r="2.3"/>
<circle class="i" cx="193.5" cy="680.4" r="2.3"/>
<path class="i" d="M138.0,700.0 L146.4,704.5 L146.4,702.0 L156.0,706.5 L157.8,711.5 L183.6,724.0 L185.4,726.5 L192.0,729.5 L192.0,727.0 L206.0,734.0"/>
</g>
<!-- 21.txt -->
<g>
<path class="o" d="M303.2,790.2 C305.3,789.8 311.6,788.3 316.0,787.5 C320.4,786.7 326.3,785.4 329.6,785.4 C332.9,785.4 334.0,786.7 336.0,787.8 C338.0,788.9 340.7,791.3 341.6,792.0"/>
<path class="o" d="M341.6,792.0 L339.8,804.0 L338.2,808.0 L340.4,813.6 L336.0,817.0"/>
<path class="o" d="M336.0,817.0 C335.1,818.0 332.9,821.8 330.8,823.2 C328.7,824.6 326.2,825.8 323.6,825.6 C321.0,825.4 317.4,824.4 315.2,822.0 C313.0,819.6 311.6,814.6 310.4,811.2 C309.2,807.8 308.4,803.2 308.0,801.6"/>
<path class="o" d="M308.0,801.6 C307.2,801.4 304.4,800.9 303.0,800.5 C301.6,800.1 300.4,800.2 299.6,799.2 C298.8,798.2 297.8,795.9 298.4,794.4 C299.0,792.9 302.4,790.9 303.2,790.2"/>
<path class="i" d="M305.0,792.0 L309.8,797.5 L341.0,792.5"/>
<path class="i" d="M309.8,797.5 C310.2,798.9 311.1,803.2 312.0,806.0 C312.9,808.8 314.4,812.0 315.5,814.0 C316.6,816.0 318.1,817.3 318.6,818.0"/>
<ellipse class="i" cx="315.2" cy="794.6" rx="4.5" ry="2.5"/>
<ellipse class="i" cx="328.4" cy="790.8" rx="4.5" ry="2.5"/>
<path class="i" d="M315.2,802.8 L317.6,808.8 L323.6,807.6 L326.0,811.2 L322.4,816.0 L320.0,814.8"/>
<path class="i" d="M326.0,813.0 L333.0,812.0 L338.0,810.0"/>
</g>
<!-- 678.txt -->
<g>
<ellipse class="f" cx="644.4" cy="782.3" rx="19.2" ry="8.1"/>
<path class="f" d="M635.4,784 L635.4,768 Q635.6,761.5 639,760.6 Q644,759.6 649,760.6 Q652.2,761.5 652.2,768 L652.2,784 Q644,786.5 635.4,784 Z"/>
<path class="i" d="M636,767.5 Q644,770 652,767.5 M644,767 L644,785 M639.5,773 L639.5,781 Q638,782.5 637,781 M648.5,773 L648.5,781 Q650,782.5 651,781"/>
<path class="f" d="M633,812.6 L667.8,819.8 Q674.4,822 674.4,826 Q674,832 667.8,834.2 L633,827 Q626,824.5 626.5,819.5 Q627.5,813 633,812.6 Z"/>
<ellipse class="i" cx="638.7" cy="819.8" rx="5.7" ry="2.5"/>
<ellipse class="i" cx="660.9" cy="827.6" rx="7.5" ry="3.6"/>
<path class="f" d="M705,806 L705,813.5 L709,817 L715,818.5 L722,817 L726,813.5 L726,806 Z"/>
<path class="i" d="M710,808 L710,817.3 M720.5,808 L720.5,817.5"/>
<ellipse class="f" cx="715.5" cy="802.7" rx="12.9" ry="6.3"/>
<path class="f" d="M708,803.5 L708,769 Q708,764.6 715,764.6 Q721.8,764.6 721.8,769 L721.8,803.5 Q715,806 708,803.5 Z"/>
<path class="i" d="M708.3,773 Q715,775 721.5,773 M708.3,778.4 Q715,780.4 721.5,778.4 M708.3,783.2 Q715,785.2 721.5,783.2 M708.3,788 Q715,790 721.5,788"/>
</g>
<!-- bolts.svg -->
<g>
<g id="bolt3">
<path class="f" d="M282.6,471 L282.9,484.9 L285.8,490.1 L285.2,497.2 Q287,499 290,499 L293.6,498.5 L294.9,490.1 L297.5,484.9 L298.2,471 Z"/>
<path class="i" d="M285.8,490.1 L294.9,490.1"/>
<ellipse class="f" cx="290.4" cy="465.3" rx="17.9" ry="7.2"/>
<path class="f" d="M280.6,453 L285.2,450.1 L294.3,450.1 L300.4,453.7 L300.4,462.1 L294.9,466.3 L284.5,466.3 L280.6,463.4 Z"/>
<path class="i" d="M281.3,456.9 L285.2,460.2 L294.6,460.2 L300.1,456.9 M285.2,460.2 L285.2,466.3 M294.6,460.2 L294.6,466.3"/>
</g>
<g id="bolt2" style="stroke:#0b1236">
<path d="M429.2,550 L429.2,572.6 Q436,577.5 442.5,572.6 L441.9,550 Z" fill="#4262cc" stroke="#0b1236" stroke-width="2"/>
<path d="M429.2,560.6 Q436,562.5 442,560.6 M429.2,565.1 Q436,567 442,565.1 M429.2,570 Q436,572 442,570" fill="none" stroke="#0b1236" stroke-width="1.2"/>
<ellipse cx="435.2" cy="543" rx="17.1" ry="8.1" fill="#4262cc" stroke="#0b1236" stroke-width="2"/>
<path d="M423.7,531.7 L429.5,525.5 L441.2,525.5 L447.4,530.4 L446.7,540.8 L440.6,545.3 L429.5,545.3 L424.3,542.1 Z" fill="#4262cc" stroke="#0b1236" stroke-width="2" stroke-linejoin="round"/>
<path d="M424.6,532.6 L429.5,536.5 L440.6,536.5 L446.4,532 M429.5,536.5 L429.5,545.3 M440.6,536.5 L440.6,545.3" fill="none" stroke="#0b1236" stroke-width="1.3"/>
</g>

</g>
<!-- nuts.svg -->
<g>
<g>
<path class="f" d="M476.5,347 C472,350 472.5,355 478,357.5 C484,360 494,360 499,357.5 C504,355 504.5,350 500,347"/>
<path class="f" d="M476.8,339.5 L482.5,333.5 L493.5,333.5 L499.5,338.5 L499.5,348 L495,353 L482.8,353.5 L477,349 Z"/>
<path class="i" d="M477.5,340.5 L483,345.5 L494,345 L499.3,339.5 M483,345.5 L482.8,353.5 M494,345 L495,353 M495,353 L495.5,357.5"/>
<ellipse class="i" cx="488.1" cy="339.5" rx="5.5" ry="3"/>
</g>
<g transform="translate(85.25,48.5)">
<path class="f" d="M476.5,347 C472,350 472.5,355 478,357.5 C484,360 494,360 499,357.5 C504,355 504.5,350 500,347"/>
<path class="f" d="M476.8,339.5 L482.5,333.5 L493.5,333.5 L499.5,338.5 L499.5,348 L495,353 L482.8,353.5 L477,349 Z"/>
<path class="i" d="M477.5,340.5 L483,345.5 L494,345 L499.3,339.5 M483,345.5 L482.8,353.5 M494,345 L495,353 M495,353 L495.5,357.5"/>
<ellipse class="i" cx="488.1" cy="339.5" rx="5.5" ry="3"/>
</g>
<g>
<path class="f" d="M676,367.6 C677,364 680,362.5 684,362.6 C689,363 694,368 697,375 C699.5,382 699,389 696.4,392 C694,394.5 690,394.5 686.8,393.4"/>
<path class="f" d="M668.2,379 L671.8,371.2 L676,369.4 L680.8,367.9 L688.6,371.2 L693.4,382.6 L691,389.8 L682,394 L671.8,391 Z"/>
<path class="i" d="M672,371.8 L680.2,375.4 L688.6,371.2 M680.2,375.4 L682.6,393.5 M682.2,386 L693,382.6"/>
<ellipse class="i" cx="676.3" cy="382.5" rx="3.6" ry="5.3" transform="rotate(-10 676.3 382.5)"/>
</g>
<g transform="translate(84.4,33.8)">
<path class="f" d="M676,367.6 C677,364 680,362.5 684,362.6 C689,363 694,368 697,375 C699.5,382 699,389 696.4,392 C694,394.5 690,394.5 686.8,393.4"/>
<path class="f" d="M668.2,379 L671.8,371.2 L676,369.4 L680.8,367.9 L688.6,371.2 L693.4,382.6 L691,389.8 L682,394 L671.8,391 Z"/>
<path class="i" d="M672,371.8 L680.2,375.4 L688.6,371.2 M680.2,375.4 L682.6,393.5 M682.2,386 L693,382.6"/>
<ellipse class="i" cx="676.3" cy="382.5" rx="3.6" ry="5.3" transform="rotate(-10 676.3 382.5)"/>
</g>

</g>
<polygon points="640.5,207.0 644.2,207.0 644.2,234.0 640.0,234.0 640.0,213.1 634.9,216.9 634.0,214.2 638.0,210.6" fill="#000"/>
<text x="650.0" y="234.5">5</text>
<polygon points="348.2,254.0 351.9,254.0 351.9,281.0 347.7,281.0 347.7,260.1 342.6,263.9 341.7,261.2 345.7,257.6" fill="#000"/>
<polygon points="366.2,254.0 369.9,254.0 369.9,281.0 365.7,281.0 365.7,260.1 360.6,263.9 359.7,261.2 363.7,257.6" fill="#000"/>
<polygon points="479.2,273.0 482.9,273.0 482.9,300.0 478.8,300.0 478.8,279.1 473.6,282.9 472.8,280.2 476.8,276.6" fill="#000"/>
<text x="488.8" y="300.5">2</text>
<polygon points="564.0,320.5 567.7,320.5 567.7,347.5 563.5,347.5 563.5,326.6 558.4,330.4 557.5,327.7 561.5,324.1" fill="#000"/>
<text x="574.5" y="348.0">4</text>
<polygon points="616.9,338.2 620.6,338.2 620.6,365.2 616.4,365.2 616.4,344.3 611.3,348.1 610.4,345.4 614.4,341.8" fill="#000"/>
<text x="626.4" y="365.7">6</text>
<polygon points="701.8,242.8 705.5,242.8 705.5,269.8 701.2,269.8 701.2,248.9 696.1,252.7 695.2,250.0 699.2,246.4" fill="#000"/>
<text x="711.2" y="270.3">7</text>
<polygon points="884.9,379.4 888.6,379.4 888.6,406.4 884.4,406.4 884.4,385.5 879.3,389.3 878.4,386.6 882.4,383.0" fill="#000"/>
<text x="894.4" y="406.9">8</text>
<polygon points="816.9,437.0 820.6,437.0 820.6,464.0 816.4,464.0 816.4,443.1 811.3,446.9 810.4,444.2 814.4,440.6" fill="#000"/>
<text x="826.4" y="464.5">9</text>
<polygon points="630.2,389.2 634.0,389.2 634.0,416.2 629.8,416.2 629.8,395.4 624.6,399.1 623.8,396.4 627.8,392.9" fill="#000"/>
<text x="639.8" y="416.8">3</text>
<polygon points="395.2,390.5 398.9,390.5 398.9,417.5 394.8,417.5 394.8,396.6 389.6,400.4 388.8,397.7 392.8,394.1" fill="#000"/>
<text x="404.8" y="418.0">0</text>
<text x="228.0" y="452.5">3</text>
<text x="70.0" y="517.5">4</text>
<text x="478.8" y="575.7">2</text>
<text x="747.3" y="584.7">5</text>
<text x="913.8" y="571.3">9</text>
<text x="789.5" y="687.0">4</text>
<polygon points="280.2,693.0 283.9,693.0 283.9,720.0 279.8,720.0 279.8,699.1 274.6,702.9 273.8,700.2 277.8,696.6" fill="#000"/>
<text x="150.8" y="784.5">2</text>
<text x="172.2" y="784.5">0</text>
<text x="309.6" y="757.7">2</text>
<polygon points="343.1,730.2 346.8,730.2 346.8,757.2 342.6,757.2 342.6,736.3 337.5,740.1 336.6,737.4 340.6,733.8" fill="#000"/>
<text x="575.7" y="797.3">7</text>
<text x="678.0" y="796.2">6</text>
<text x="759.4" y="819.3">8</text>
<line x1="649.0" y1="237.0" x2="649.0" y2="255.0" stroke="#000" stroke-width="2.2"/><polygon points="649.0,265.0 643.8,255.0 654.2,255.0" fill="#000"/>
<line x1="357.0" y1="285.0" x2="357.0" y2="303.0" stroke="#000" stroke-width="2.2"/><polygon points="357.0,313.0 351.8,303.0 362.2,303.0" fill="#000"/>
<line x1="487.5" y1="305.0" x2="487.5" y2="322.5" stroke="#000" stroke-width="2.2"/><polygon points="487.5,332.5 482.3,322.5 492.7,322.5" fill="#000"/>
<line x1="573.8" y1="353.8" x2="573.8" y2="371.2" stroke="#000" stroke-width="2.2"/><polygon points="573.8,381.2 568.5,371.2 579.0,371.2" fill="#000"/>
<line x1="724.5" y1="259.0" x2="742.2" y2="259.0" stroke="#000" stroke-width="2.2"/><polygon points="752.2,259.0 742.2,264.2 742.2,253.8" fill="#000"/>
<line x1="893.6" y1="374.4" x2="893.6" y2="355.6" stroke="#000" stroke-width="2.2"/><polygon points="893.6,345.6 898.8,355.6 888.4,355.6" fill="#000"/>
<line x1="808.8" y1="437.6" x2="792.1" y2="429.3" stroke="#000" stroke-width="2.2"/><polygon points="783.2,424.8 794.5,424.6 789.8,433.9" fill="#000"/>
<line x1="636.2" y1="418.8" x2="636.2" y2="437.5" stroke="#000" stroke-width="2.2"/><polygon points="636.2,447.5 631.0,437.5 641.5,437.5" fill="#000"/>
<line x1="403.8" y1="421.2" x2="403.8" y2="440.0" stroke="#000" stroke-width="2.2"/><polygon points="403.8,450.0 398.6,440.0 408.9,440.0" fill="#000"/>
<line x1="249.0" y1="446.0" x2="265.1" y2="454.4" stroke="#000" stroke-width="2.2"/><polygon points="274.0,459.0 262.7,459.0 267.5,449.8" fill="#000"/>
<line x1="80.0" y1="486.0" x2="80.0" y2="469.0" stroke="#000" stroke-width="2.2"/><polygon points="80.0,459.0 85.2,469.0 74.8,469.0" fill="#000"/>
<line x1="477.2" y1="559.6" x2="461.2" y2="552.7" stroke="#000" stroke-width="2.2"/><polygon points="452.0,548.8 463.2,548.0 459.1,557.5" fill="#000"/>
<line x1="745.4" y1="572.5" x2="726.8" y2="572.5" stroke="#000" stroke-width="2.2"/><polygon points="716.8,572.5 726.8,567.3 726.8,577.7" fill="#000"/>
<line x1="908.6" y1="560.0" x2="890.7" y2="560.0" stroke="#000" stroke-width="2.2"/><polygon points="880.7,560.0 890.7,554.8 890.7,565.2" fill="#000"/>
<line x1="786.0" y1="675.0" x2="767.0" y2="675.0" stroke="#000" stroke-width="2.2"/><polygon points="757.0,675.0 767.0,669.8 767.0,680.2" fill="#000"/>
<line x1="281.2" y1="687.5" x2="281.2" y2="671.2" stroke="#000" stroke-width="2.2"/><polygon points="281.2,661.2 286.4,671.2 276.1,671.2" fill="#000"/>
<line x1="168.8" y1="752.5" x2="168.8" y2="735.0" stroke="#000" stroke-width="2.2"/><polygon points="168.8,725.0 173.9,735.0 163.6,735.0" fill="#000"/>
<line x1="329.6" y1="757.2" x2="329.6" y2="776.0" stroke="#000" stroke-width="2.2"/><polygon points="329.6,786.0 324.4,776.0 334.8,776.0" fill="#000"/>
<line x1="595.3" y1="782.5" x2="613.9" y2="782.5" stroke="#000" stroke-width="2.2"/><polygon points="623.9,782.5 613.9,787.7 613.9,777.3" fill="#000"/>
<line x1="682.2" y1="795.7" x2="673.2" y2="810.3" stroke="#000" stroke-width="2.2"/><polygon points="667.9,818.8 668.7,807.6 677.6,813.0" fill="#000"/>
<line x1="758.1" y1="804.5" x2="740.6" y2="804.5" stroke="#000" stroke-width="2.2"/><polygon points="730.6,804.5 740.6,799.3 740.6,809.7" fill="#000"/>
<line x1="642.9" y1="363.9" x2="659.0" y2="371.4" stroke="#000" stroke-width="2.2"/><polygon points="668.1,375.6 656.8,376.1 661.2,366.7" fill="#000"/>
</svg></body></html>
